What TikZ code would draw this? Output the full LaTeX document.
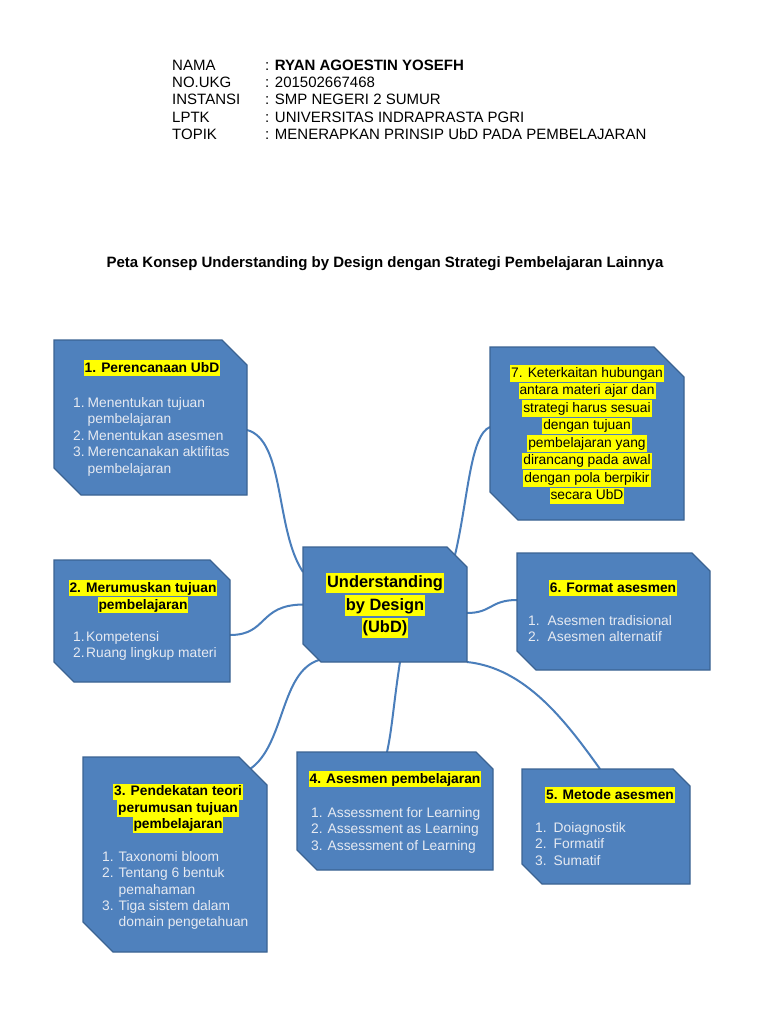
\documentclass[tikz,border=0pt]{standalone}
\usepackage{fontspec}
\setmainfont{Liberation Sans}
\definecolor{ubdblue}{HTML}{4F81BD}
\definecolor{ubdborder}{HTML}{3B6392}
\definecolor{linkblue}{HTML}{4A7EBB}
\definecolor{listwhite}{HTML}{E6EAF2}
\definecolor{hlyellow}{HTML}{FFFF00}
\setlength\fboxsep{0pt}
\newcommand\hlt[1]{\colorbox{hlyellow}{\rule[-4.2pt]{0pt}{16.5pt}\kern1pt #1\kern1pt}}
\newcommand\hlc[1]{\colorbox{hlyellow}{\rule[-5.5pt]{0pt}{20.5pt}\kern1pt #1\kern1pt}}
\newcommand\snipbox[3]{\path[boxshape] (#1.north west) -- ([xshift=-#2pt]#1.north east) -- ([yshift=-#2pt]#1.north east) -- (#1.south east) -- ([xshift=#3pt]#1.south west) -- ([yshift=#3pt]#1.south west) -- cycle;}
\tikzset{
  boxshape/.style={fill=ubdblue, draw=ubdborder, line width=1.2pt, line join=miter},
  link/.style={draw=linkblue, line width=2pt},
  anchorbox/.style={inner sep=0pt, outer sep=0pt, draw=none},
  hdr/.style={font=\fontsize{15}{17}\selectfont, inner sep=0pt, anchor=base west},
  headtext/.style={font=\fontsize{13.8}{16.5}\selectfont\bfseries, align=center, inner sep=0pt},
  listtext/.style={font=\fontsize{13.8}{16.4}\selectfont, text=listwhite, inner sep=0pt, anchor=base west},
}
\begin{document}
\begin{tikzpicture}[x=1pt,y=-1pt]
\fill[white] (0,0) rectangle (768,1024);
\useasboundingbox (0,0) rectangle (768,1024);
% header
\node[hdr] (k1) at (172,70.4) {NAMA};
\node[hdr] (k2) at (172,87.6) {NO.UKG};
\node[hdr] (k3) at (172,105) {INSTANSI};
\node[hdr] (k4) at (172,122.4) {LPTK};
\node[hdr] (k5) at (172,139.6) {TOPIK};
\node[hdr] (v1) at (265,70.4) {: \textbf{RYAN AGOESTIN YOSEFH}};
\node[hdr] (v2) at (265,87.6) {: 201502667468};
\node[hdr] (v3) at (265,105) {: SMP NEGERI 2 SUMUR};
\node[hdr] (v4) at (265,122.4) {: UNIVERSITAS INDRAPRASTA PGRI};
\node[hdr] (v5) at (265,139.6) {: MENERAPKAN PRINSIP UbD PADA PEMBELAJARAN};
\node[font=\fontsize{15}{17}\selectfont\bfseries, inner sep=0pt, anchor=base] (title) at (385,267.5) {Peta Konsep Understanding by Design dengan Strategi Pembelajaran Lainnya};
% box frames
\node[anchorbox, minimum width=193pt, minimum height=155pt] (b1) at (150.5,417.5) {};
\node[anchorbox, minimum width=194pt, minimum height=173pt] (b7) at (587,433.5) {};
\node[anchorbox, minimum width=176pt, minimum height=122pt] (b2) at (142,621) {};
\node[anchorbox, minimum width=164pt, minimum height=115pt] (c) at (385,604.5) {};
\node[anchorbox, minimum width=193pt, minimum height=117pt] (b6) at (613.5,611.5) {};
\node[anchorbox, minimum width=184pt, minimum height=195pt] (b3) at (175,854.5) {};
\node[anchorbox, minimum width=196pt, minimum height=118pt] (b4) at (395,811) {};
\node[anchorbox, minimum width=168pt, minimum height=115pt] (b5) at (606,826.5) {};
% connectors
\draw[link] ([yshift=-12.5pt]b1.east) .. controls (285,440) and (275,530) .. ([yshift=32.5pt]c.west);
\draw[link] ([yshift=6.5pt]b7.west) .. controls (470,435) and (468,500) .. ([xshift=-12pt,yshift=-8pt]c.north east);
\draw[link] ([yshift=-14pt]b2.east) .. controls (268,635) and (258,605) .. (c.west);
\draw[link] ([yshift=-8.5pt]c.east) .. controls (492,613) and (490,600) .. ([yshift=11.5pt]b6.west);
\draw[link] ([xshift=16pt,yshift=2pt]c.south west) .. controls (280,672) and (285,745) .. ([xshift=-17pt,yshift=-12pt]b3.north east);
\draw[link] ([xshift=15pt]c.south) .. controls (394,700) and (392,730) .. ([xshift=-8pt]b4.north);
\draw[link] (c.south east) .. controls (525,668) and (565,720) .. ([xshift=-6pt]b5.north);
% box shapes
\snipbox{b1}{25}{27}
\snipbox{b7}{30}{28}
\snipbox{b2}{20}{20}
\snipbox{c}{20}{18}
\snipbox{b6}{18}{19}
\snipbox{b3}{28}{30}
\snipbox{b4}{17}{20}
\snipbox{b5}{17}{20}
% box 1
\node[headtext] (h1) at (152,368) {\hlt{1. Perencanaan UbD}};
\node[listtext] (t1) at (73,407.5) {\begin{tabular}[t]{@{}l@{\hspace{3pt}}l@{}}1.&Menentukan tujuan\\&pembelajaran\\2.&Menentukan asesmen\\3.&Merencanakan aktifitas\\&pembelajaran\end{tabular}};
% box 7
\node[headtext, font=\fontsize{13.8}{16.4}\selectfont] (h7) at (587,434.5) {\hlt{7. Keterkaitan hubungan}\\\hlt{antara materi ajar dan}\\\hlt{strategi harus sesuai}\\\hlt{dengan tujuan}\\\hlt{pembelajaran yang}\\\hlt{dirancang pada awal}\\\hlt{dengan pola berpikir}\\\hlt{secara UbD}};
% box 2
\node[headtext, font=\fontsize{13.8}{17}\selectfont\bfseries] (h2) at (143,596.5) {\hlt{2. Merumuskan tujuan}\\\hlt{pembelajaran}};
\node[listtext] (t2) at (73,641.5) {\begin{tabular}[t]{@{}l@{\hspace{1.5pt}}l@{}}1.&Kompetensi\\2.&Ruang lingkup materi\end{tabular}};
% center
\node[font=\fontsize{16.4}{22.5}\selectfont\bfseries, align=center, inner sep=0pt] (ct) at (385,605.7) {\hlc{Understanding}\\\hlc{by Design}\\\hlc{(UbD)}};
% box 6
\node[headtext] (h6) at (613,588) {\hlt{6. Format asesmen}};
\node[listtext] (t6) at (528,625.5) {\begin{tabular}[t]{@{}l@{\hspace{8pt}}l@{}}1.&Asesmen tradisional\\2.&Asesmen alternatif\end{tabular}};
% box 3
\node[headtext] (h3) at (178,808.3) {\hlt{3. Pendekatan teori}\\\hlt{perumusan tujuan}\\\hlt{pembelajaran}};
\node[listtext, font=\fontsize{13.8}{16.25}\selectfont] (t3) at (102,861.5) {\begin{tabular}[t]{@{}l@{\hspace{5pt}}l@{}}1.&Taxonomi bloom\\2.&Tentang 6 bentuk\\&pemahaman\\3.&Tiga sistem dalam\\&domain pengetahuan\end{tabular}};
% box 4
\node[headtext] (h4) at (395,779) {\hlt{4. Asesmen pembelajaran}};
\node[listtext] (t4) at (311,817.5) {\begin{tabular}[t]{@{}l@{\hspace{5pt}}l@{}}1.&Assessment for Learning\\2.&Assessment as Learning\\3.&Assessment of Learning\end{tabular}};
% box 5
\node[headtext] (h5) at (610,795) {\hlt{5. Metode asesmen}};
\node[listtext] (t5) at (535,832.5) {\begin{tabular}[t]{@{}l@{\hspace{7pt}}l@{}}1.&Doiagnostik\\2.&Formatif\\3.&Sumatif\end{tabular}};
\end{tikzpicture}
\end{document}
